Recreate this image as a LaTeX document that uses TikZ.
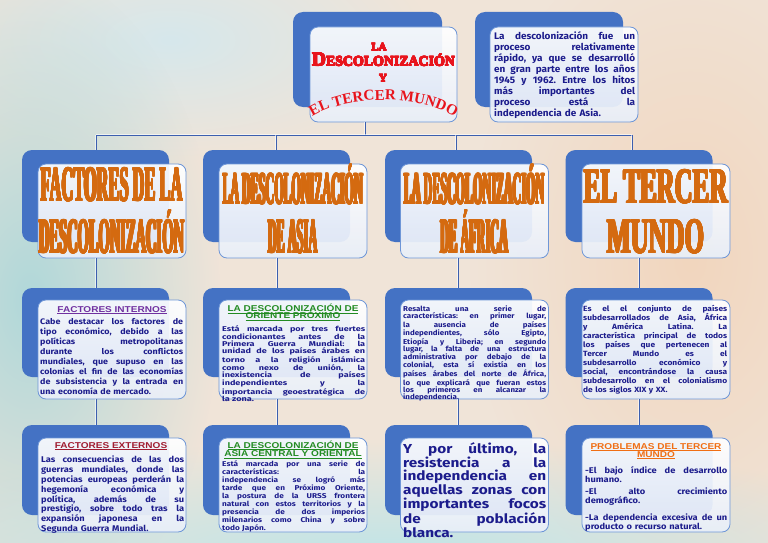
\documentclass[tikz,border=0pt]{standalone}
\usepackage{fontspec}
\usepackage{graphicx}
\usepackage{contour}
\contourlength{0.7pt}
\usetikzlibrary{decorations.text,fadings}
\setmainfont{Fira Sans}
\newfontfamily\tfont{Liberation Serif}
\newfontfamily\hsans{Liberation Sans}
\newfontfamily\fsN{Fira Sans}
\newfontfamily\fsA{Fira Sans}[FakeStretch=1.05]
\newfontfamily\fsB{Fira Sans}[FakeStretch=1.12]
\newfontfamily\fsC{Fira Sans}[FakeStretch=1.18]
\newfontfamily\fsD{Fira Sans}[FakeStretch=1.3]
\lineskiplimit=-30pt
\newdimen\bw
\bw=143pt
\def\JLa#1 #2\JLend{#1\ifx\relax#2\relax\else\hfil\JLa#2\JLend\fi}
\newcommand\JL[1]{\noindent\hbox to\bw{\JLa#1 \JLend}\par}
\newcommand\LL[1]{\noindent\hbox{#1}\par}
\newcommand\HD[1]{\scalebox{1.18}[1]{\underline{#1}}}
\newcommand\HT[2]{\contour{horange}{\scalebox{#1}[1]{#2}}}
\definecolor{bgbase}{RGB}{240,228,216}
\definecolor{bgteal}{RGB}{176,216,218}
\definecolor{bgcyan}{RGB}{190,228,232}
\definecolor{bglight}{RGB}{214,232,236}
\definecolor{bgpeach}{RGB}{242,214,190}
\definecolor{boxblue}{RGB}{68,114,196}
\definecolor{edgeblue}{RGB}{110,150,215}
\definecolor{wbottom}{RGB}{232,238,248}
\definecolor{navy}{RGB}{28,28,140}
\definecolor{horange}{RGB}{212,106,16}
\definecolor{tred}{RGB}{232,20,28}
\definecolor{hpurple}{RGB}{112,48,160}
\definecolor{hred}{RGB}{160,28,48}
\definecolor{hgreen}{RGB}{34,139,34}
\definecolor{porange}{RGB}{240,110,20}
\definecolor{connblue}{RGB}{60,95,175}
\tikzfading[name=fuzz, inner color=transparent!0, outer color=transparent!100]
\tikzset{
  backbox/.style={fill=boxblue, draw=none, rounded corners=10pt, inner sep=0pt, minimum width=147pt},
  frontbox/.style={top color=white, bottom color=wbottom, fill opacity=0.93, draw=edgeblue, line width=0.8pt, rounded corners=8pt, inner sep=0pt, minimum width=148pt},
  conn/.style={draw=connblue, line width=0.8pt, preaction={draw=white, line width=2.4pt, opacity=0.6}},
  hdr/.style={font=\tfont\bfseries\fontsize{50}{50}\selectfont, text=horange, inner sep=0pt, anchor=base},
  sub/.style={font=\hsans\bfseries\fontsize{8.5}{8.5}\selectfont, inner sep=0pt, anchor=base},
  bwid/.code={\global\bw=#1pt},
  body/.style={inner sep=0pt, anchor=north west, text=navy, text width=150pt, bwid=143},
  ttl/.style={text=tred, inner sep=0pt, anchor=base}
}
\begin{document}
\begin{tikzpicture}[x=1pt,y=-1pt]
\useasboundingbox (0,0) rectangle (768,543);
% background
\fill[bgbase] (0,0) rectangle (768,543);
\begin{scope}
\clip (0,0) rectangle (768,543);
\fill[bgpeach, path fading=fuzz] (690,260) ellipse [x radius=220pt, y radius=330pt];
\fill[bglight, path fading=fuzz] (170,40) ellipse [x radius=260pt, y radius=120pt];
\fill[bgteal, path fading=fuzz] (30,300) ellipse [x radius=190pt, y radius=330pt];
\fill[bgcyan, path fading=fuzz] (384,560) ellipse [x radius=560pt, y radius=120pt];
\end{scope}

% boxes (back)
\node[backbox, minimum width=149pt, minimum height=95pt] (TB) at (367.5,59.5) {};
\node[backbox, minimum width=148pt, minimum height=95pt] (IB) at (549,59.5) {};
\node[backbox, minimum height=92pt] (HB1) at (95.5,196) {};
\node[backbox, minimum height=92pt] (HB2) at (276.5,196) {};
\node[backbox, minimum height=92pt] (HB3) at (458.5,196) {};
\node[backbox, minimum height=92pt] (HB4) at (639,196) {};
\node[backbox, minimum height=89pt] (MB1) at (95.5,332.5) {};
\node[backbox, minimum height=89pt] (MB2) at (276.5,332.5) {};
\node[backbox, minimum height=89pt] (MB3) at (458.5,332.5) {};
\node[backbox, minimum height=89pt] (MB4) at (639,332.5) {};
\node[backbox, minimum height=90pt] (LB1) at (95.5,470) {};
\node[backbox, minimum height=90pt] (LB2) at (276.5,470) {};
\node[backbox, minimum height=90pt] (LB3) at (458.5,470) {};
\node[backbox, minimum height=90pt] (LB4) at (639,470) {};

% connector coordinates
\coordinate (hubT) at (365,135);
\coordinate (hub1) at (96,135);
\coordinate (hub2) at (276,135);
\coordinate (hub3) at (456,135);
\coordinate (hub4) at (632,135);
\coordinate (v1) at (96,0);
\coordinate (v2) at (277,0);
\coordinate (v3) at (458,0);
\coordinate (v4) at (639,0);

% front boxes
\node[frontbox, minimum width=147pt, minimum height=95pt] (TW) at (383.5,74.5) {};
\node[frontbox, minimum height=95pt] (IW) at (564,74.5) {};
\node[frontbox, minimum height=94pt] (HW1) at (112,211) {};
\node[frontbox, minimum height=94pt] (HW2) at (293,211) {};
\node[frontbox, minimum height=94pt] (HW3) at (474.5,211) {};
\node[frontbox, minimum height=94pt] (HW4) at (656,211) {};
\node[frontbox, minimum height=99pt] (MW1) at (112,349.5) {};
\node[frontbox, minimum height=99pt] (MW2) at (293,349.5) {};
\node[frontbox, minimum height=99pt] (MW3) at (474.5,349.5) {};
\node[frontbox, minimum height=99pt] (MW4) at (656,349.5) {};
\node[frontbox, minimum height=94pt] (LW1) at (112,485) {};
\node[frontbox, minimum height=94pt] (LW2) at (293,485) {};
\node[frontbox, minimum height=94pt] (LW3) at (474.5,485) {};
\node[frontbox, minimum height=94pt] (LW4) at (656,485) {};

% connectors
\draw[conn] (hubT |- TW.south) -- (hubT);
\draw[conn] (hub1) -- (hub4);
\foreach \i in {1,2,3,4} {
  \draw[conn] (hub\i) -- (hub\i |- HB\i.north);
  \draw[conn] (v\i |- HW\i.south) -- (v\i |- MB\i.north);
  \draw[conn] (v\i |- MW\i.south) -- (v\i |- LB\i.north);
}

% title
\node[ttl, font=\tfont\bfseries\fontsize{11}{11}\selectfont] (tLA) at (379,51) {\contourlength{0.25pt}\contour{tred}{LA}};
\node[ttl] (tDES) at (383.5,66) {\contourlength{0.3pt}\contour{tred}{\resizebox{143pt}{!}{\tfont\bfseries{\fontsize{21}{21}\selectfont D}{\fontsize{15}{15}\selectfont ESCOLONIZACIÓN}}}};
\node[ttl, font=\tfont\bfseries\fontsize{11}{11}\selectfont] (tY) at (383,82) {\contourlength{0.25pt}\contour{tred}{Y}};
\path[decorate, decoration={text along path, text align=center,
  text={|\tfont\bfseries\fontsize{15}{15}\selectfont\color{tred}|EL TERCER MUNDO}}]
  (306,121) .. controls (342,93) and (425,93) .. (461,121);

% info text
\node[body, bwid=141, font=\fsA\bfseries\fontsize{9.5}{11.1}\selectfont] (info) at (494,31) {%
\JL{La descolonización fue un}
\JL{proceso relativamente}
\JL{rápido, ya que se desarrolló}
\JL{en gran parte entre los años}
\JL{1945 y 1962. Entre los hitos}
\JL{más importantes del}
\JL{proceso está la}
\LL{independencia de Asia.}};

% headers
\node[hdr] (h1a) at (112,201) {\HT{0.328}{FACTORES DE LA}};
\node[hdr] (h1b) at (112,253) {\HT{0.29}{DESCOLONIZACIÓN}};
\node[hdr, font=\tfont\bfseries\fontsize{46}{46}\selectfont] (h2a) at (293,204) {\HT{0.262}{LA DESCOLONIZACIÓN}};
\node[hdr] (h2b) at (293,253) {\HT{0.245}{DE ASIA}};
\node[hdr, font=\tfont\bfseries\fontsize{46}{46}\selectfont] (h3a) at (474.5,204) {\HT{0.262}{LA DESCOLONIZACIÓN}};
\node[hdr] (h3b) at (474.5,253) {\HT{0.245}{DE ÁFRICA}};
\node[hdr] (h4a) at (656,203) {\HT{0.5}{EL TERCER}};
\node[hdr] (h4b) at (656,253) {\HT{0.5}{MUNDO}};

% row 2
\node[sub, text=hpurple] (s1) at (112,312) {\HD{FACTORES INTERNOS}};
\node[body, font=\fsB\bfseries\fontsize{8}{10.1}\selectfont] (m1) at (40,318) {%
\JL{Cabe destacar los factores de}
\JL{tipo económico, debido a las}
\JL{políticas metropolitanas}
\JL{durante los conflictos}
\JL{mundiales, que supuso en las}
\JL{colonias el fin de las economías}
\JL{de subsistencia y la entrada en}
\LL{una economía de mercado.}};

\node[sub, text=hgreen] (s2a) at (293,311.5) {\HD{LA DESCOLONIZACIÓN DE}};
\node[sub, text=hgreen] (s2b) at (293,318.5) {\HD{ORIENTE PRÓXIMO}};
\node[body, font=\fsD\bfseries\fontsize{7}{7.2}\selectfont] (m2) at (222,325) {%
\JL{Está marcada por tres fuertes}
\JL{condicionantes antes de la}
\JL{Primera Guerra Mundial: la}
\JL{unidad de los países árabes en}
\JL{torno a la religión islámica}
\JL{como nexo de unión, la}
\JL{inexistencia de países}
\JL{independientes y la}
\JL{importancia geoestratégica de}
\LL{la zona.}};

\node[body, font=\fsB\bfseries\fontsize{7.1}{7.36}\selectfont] (m3) at (403,305.5) {%
\JL{Resalta una serie de}
\JL{características: en primer lugar,}
\JL{la ausencia de países}
\JL{independientes, sólo Egipto,}
\JL{Etiopía y Liberia; en segundo}
\JL{lugar, la falta de una estructura}
\JL{administrativa por debajo de la}
\JL{colonial, esta sí existía en los}
\JL{países árabes del norte de África,}
\JL{lo que explicará que fueran estos}
\JL{los primeros en alcanzar la}
\LL{independencia.}};

\node[body, bwid=144, font=\fsB\bfseries\fontsize{7.5}{9}\selectfont] (m4) at (583,305) {%
\JL{Es el el conjunto de países}
\JL{subdesarrollados de Asia, África}
\JL{y América Latina. La}
\JL{característica principal de todos}
\JL{los países que pertenecen al}
\JL{Tercer Mundo es el}
\JL{subdesarrollo económico y}
\JL{social, encontrándose la causa}
\JL{subdesarrollo en el colonialismo}
\LL{de los siglos XIX y XX.}};

% row 3
\node[sub, text=hred] (s5) at (111,448) {\HD{FACTORES EXTERNOS}};
\node[body, font=\fsB\bfseries\fontsize{8.3}{9.9}\selectfont] (l1) at (41,455.5) {%
\JL{Las consecuencias de las dos}
\JL{guerras mundiales, donde las}
\JL{potencias europeas perderán la}
\JL{hegemonía económica y}
\JL{política, además de su}
\JL{prestigio, sobre todo tras la}
\JL{expansión japonesa en la}
\LL{Segunda Guerra Mundial.}};

\node[sub, text=hgreen] (s6a) at (293,448) {\HD{LA DESCOLONIZACIÓN DE}};
\node[sub, text=hgreen] (s6b) at (293,456.5) {\HD{ASIA CENTRAL Y ORIENTAL}};
\node[body, font=\fsC\bfseries\fontsize{7}{8.1}\selectfont] (l2) at (222,460) {%
\JL{Está marcada por una serie de}
\JL{características: la}
\JL{independencia se logró más}
\JL{tarde que en Próximo Oriente,}
\JL{la postura de la URSS frontera}
\JL{natural con estos territorios y la}
\JL{presencia de dos imperios}
\JL{milenarios como China y sobre}
\LL{todo Japón.}};

\node[body, font=\fsC\bfseries\fontsize{13}{12.75}\selectfont] (l3) at (403,442.5) {%
\JL{Y por último, la}
\JL{resistencia a la}
\JL{independencia en}
\JL{aquellas zonas con}
\JL{importantes focos}
\JL{de población}
\LL{blanca.}};

\node[sub, text=porange] (s8a) at (656,449) {\HD{PROBLEMAS DEL TERCER}};
\node[sub, text=porange] (s8b) at (656,457) {\HD{MUNDO}};
\node[body, bwid=142, font=\fsB\bfseries\fontsize{8.3}{9}\selectfont] (l4) at (585,466.5) {%
\JL{-El bajo índice de desarrollo}
\LL{humano.}
\vspace{3pt}
\JL{-El alto crecimiento}
\LL{demográfico.}
\vspace{8pt}
\JL{-La dependencia excesiva de un}
\LL{producto o recurso natural.}};
\end{tikzpicture}
\end{document}
